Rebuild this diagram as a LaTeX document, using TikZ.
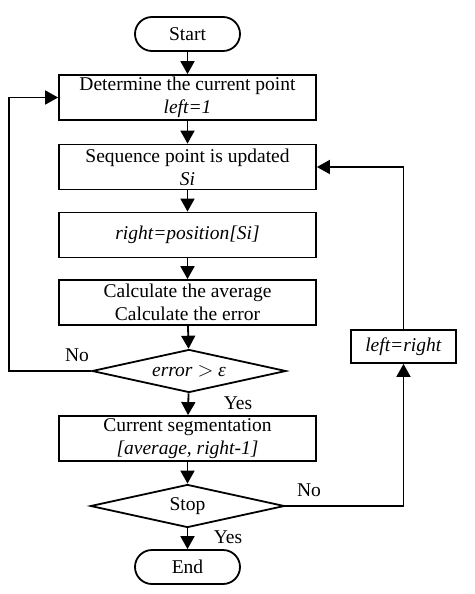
\documentclass[tikz,border=0pt]{standalone}
\usepackage{fontspec}
\setmainfont{Liberation Serif}
\usepackage{tikz}
\usetikzlibrary{positioning, arrows.meta, shapes.geometric}

\begin{document}
\begin{tikzpicture}[x=1pt, y=-1pt, line width=1.8pt,
    font=\fontsize{19.5}{23}\selectfont,
    box/.style={draw, minimum width=257pt, minimum height=45pt, inner sep=2pt, align=center},
    term/.style={draw, rounded corners=17pt, minimum width=105pt, minimum height=34pt},
    decision/.style={draw, diamond, aspect=4.5, minimum width=194pt, minimum height=43pt, inner sep=0pt},
    arrow/.style={-{Triangle[length=13pt, width=14pt]}}]
  \useasboundingbox (0,0) rectangle (474,594);

  % main column
  \node[term] (start) at (187.5,34) {Start};
  \node[box] (init) at (187.5,97.5) {Determine the current point\\ \textit{left=1}};
  \node[box] (update) at (187.5,167) {Sequence point is updated\\ \textit{Si}};
  \node[box] (pos) at (187.5,235) {\textit{right=position[Si]}};
  \node[box] (calc) at (187.5,302.5) {Calculate the average\\ Calculate the error};
  \node[decision] (check) at (189,371) {\textit{error} $>$ \textit{ε}};
  \node[box] (segment) at (187.5,438.5) {Current segmentation\\ \textit{[average, right-1]}};
  \node[decision] (stop) at (187.5,506) {Stop};
  \node[term] (end) at (187.5,567) {End};

  % right branch
  \node[draw, minimum width=105pt, minimum height=33pt, inner sep=2pt] (shift) at (403.5,346.5) {\textit{left=right}};
  \coordinate (loopL) at (9,0);

  \draw[arrow] (start) -- (init);
  \draw[arrow] (init) -- (update);
  \draw[arrow] (update) -- (pos);
  \draw[arrow] (pos) -- (calc);
  \draw[arrow] (calc) -- (check);
  \draw[arrow] (check) -- (segment);
  \draw[arrow] (segment) -- (stop);
  \draw[arrow] (stop) -- (end);
  \draw[arrow] (check.west) -- (check.west -| loopL) |- (init.west);
  \draw[arrow] (stop.east) -| (shift.south);
  \draw[arrow] (shift.north) |- (update.east);

  % labels
  \node at (77,355) {No};
  \node at (238,403) {Yes};
  \node at (309,490) {No};
  \node at (228,537) {Yes};
\end{tikzpicture}
\end{document}
